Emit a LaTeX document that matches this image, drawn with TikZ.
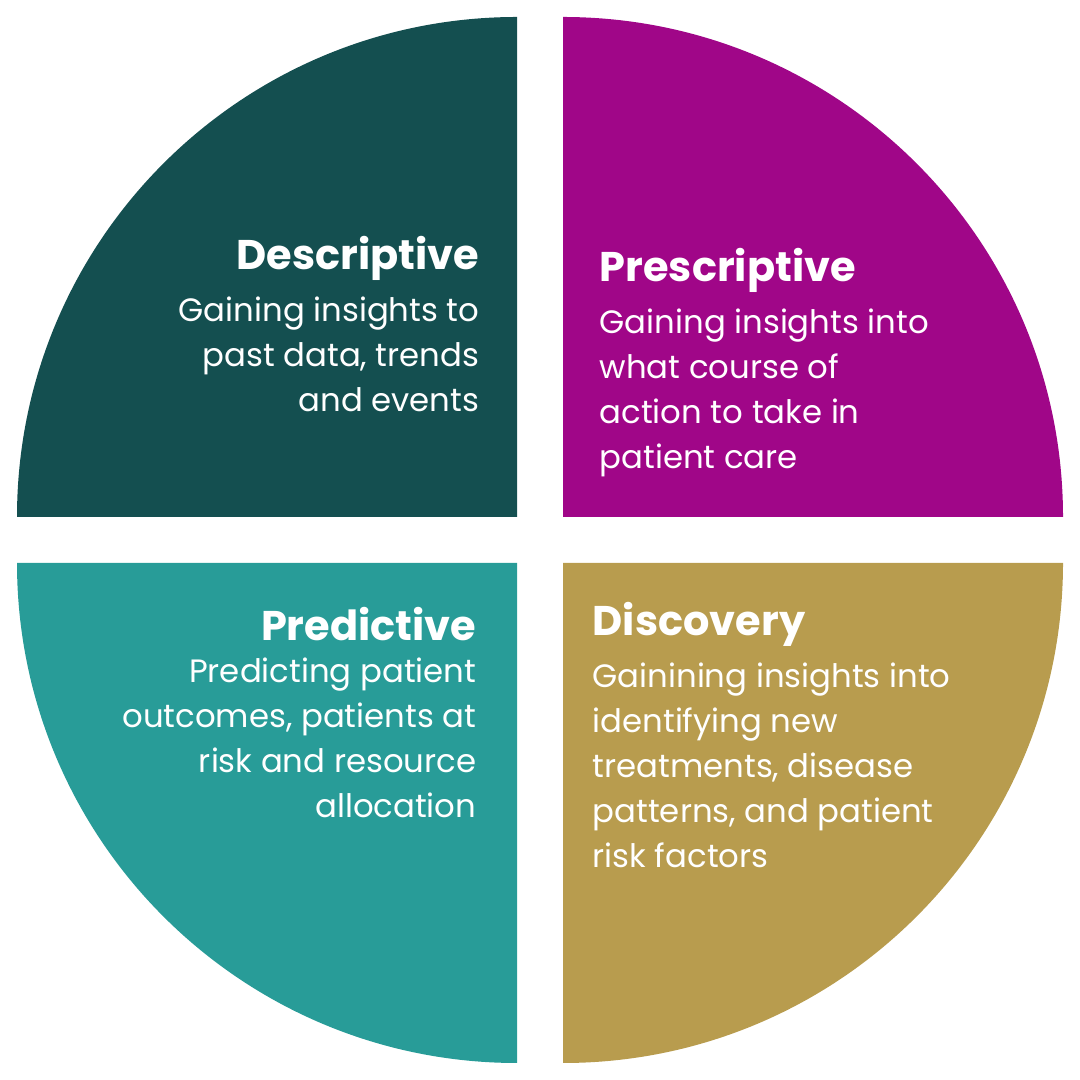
\documentclass[tikz,border=0pt]{standalone}
\usepackage{fontspec}
\setmainfont{Poppins}
\usetikzlibrary{positioning}
\definecolor{descCol}{HTML}{144F50}
\definecolor{presCol}{HTML}{A00688}
\definecolor{predCol}{HTML}{289C98}
\definecolor{discCol}{HTML}{B89C4E}
\begin{document}
\begin{tikzpicture}
[title/.style={text=white,inner sep=0pt,font=\fontsize{11.8}{13}\selectfont\bfseries},
 body/.style={text=white,inner sep=0pt,font=\fontsize{9.2}{12.8}\selectfont}]
\useasboundingbox (0,0) rectangle (10.8,10.8);
% quarters
\fill[descCol] (5.17,5.63) -- (0.17,5.63) arc (180:90:5) -- cycle;
\fill[presCol] (5.63,5.63) -- (5.63,10.63) arc (90:0:5) -- cycle;
\fill[predCol] (5.17,5.17) -- (5.17,0.17) arc (270:180:5) -- cycle;
\fill[discCol] (5.63,5.17) -- (10.63,5.17) arc (0:-90:5) -- cycle;
% texts
\node[title,anchor=north east] (desct) at (4.80,8.44) {Descriptive};
\node[body,align=right,below=0.15 of desct.south east,anchor=north east] (descb)
  {Gaining insights to\\past data, trends\\and events};
\node[title,anchor=north west] (prest) at (5.99,8.32) {Prescriptive};
\node[body,align=left,below=0.15 of prest.south west,anchor=north west] (presb)
  {Gaining insights into\\what course of\\action to take in\\patient care};
\node[title,anchor=north east] (predt) at (4.77,4.73) {Predictive};
\node[body,align=right,below=0.15 of predt.south east,anchor=north east] (predb)
  {Predicting patient\\outcomes, patients at\\risk and resource\\allocation};
\node[title,anchor=north west] (disct) at (5.92,4.78) {Discovery};
\node[body,align=left,below=0.15 of disct.south west,anchor=north west] (discb)
  {Gainining insights into\\identifying new\\treatments, disease\\patterns, and patient\\risk factors};
\end{tikzpicture}
\end{document}
